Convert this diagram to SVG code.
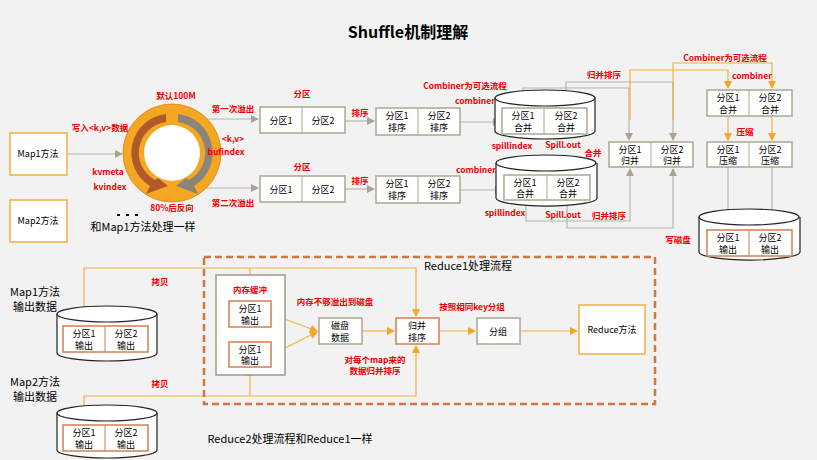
<svg xmlns="http://www.w3.org/2000/svg" width="817" height="460" viewBox="0 0 817 460">
<defs>
<style>
text{font-family:"Noto Sans CJK SC","Liberation Sans",sans-serif;font-size:9px;fill:#000;text-anchor:middle}
.r{fill:#e00;font-weight:bold;font-size:8.5px}
.bx{fill:#fff;stroke:#aaa890;stroke-width:1.5}
.ob{fill:#fff;stroke:#d08050;stroke-width:1.5}
.yb{fill:#fff;stroke:#f0b040;stroke-width:1.5}
.g{fill:none;stroke:#b8b4a8;stroke-width:1.2}
.o{fill:none;stroke:#f5b040;stroke-width:1.2}
.cy{fill:#fff;stroke:#222;stroke-width:1.2}
</style>
<marker id="ag" markerWidth="8" markerHeight="8" refX="7" refY="4" orient="auto" markerUnits="userSpaceOnUse"><path d="M0,0L8,4L0,8z" fill="#a8a498"/></marker>
<marker id="ao" markerWidth="8" markerHeight="8" refX="7" refY="4" orient="auto" markerUnits="userSpaceOnUse"><path d="M0,0L8,4L0,8z" fill="#f5a623"/></marker>
</defs>
<rect width="817" height="460" fill="#f2f2f2"/>
<text x="408" y="38" style="font-size:16px;font-weight:bold">Shuffle机制理解</text>

<g id="connectors">
<path class="g" d="M68,154H122" marker-end="url(#ag)"/>
<path class="g" d="M205,119H258" marker-end="url(#ag)"/>
<path class="g" d="M205,188H258" marker-end="url(#ag)"/>
<path class="g" d="M345,121H374" marker-end="url(#ag)"/>
<path class="g" d="M345,189H374" marker-end="url(#ag)"/>
<path class="g" d="M460,122H500" marker-end="url(#ag)"/>
<path class="g" d="M460,190H502" marker-end="url(#ag)"/>
<path class="g" d="M523,108V88H629V140" marker-end="url(#ag)"/>
<path class="g" d="M566,108V82H673V140" marker-end="url(#ag)"/>
<path class="g" d="M526,200V221H630V169" marker-end="url(#ag)"/>
<path class="g" d="M567,200V228H673V169" marker-end="url(#ag)"/>
<path class="o" d="M630,120V70H728V88" marker-end="url(#ao)"/>
<path class="o" d="M673,120V63H772V88" marker-end="url(#ao)"/>
<path class="o" d="M728,116V140" marker-end="url(#ao)"/>
<path class="o" d="M772,116V140" marker-end="url(#ao)"/>
<path class="g" d="M728,167V229" marker-end="url(#ag)"/>
<path class="g" d="M772,167V229" marker-end="url(#ag)"/>
<path class="o" d="M84,326V268H416V316" marker-end="url(#ao)"/>
<path class="o" d="M250,268V299" marker-end="url(#ao)"/>
<path class="o" d="M84,425V396H416V346" marker-end="url(#ao)"/>
<path class="o" d="M250,396V369" marker-end="url(#ao)"/>
<path class="o" d="M271,314L317,331" marker-end="url(#ao)"/>
<path class="o" d="M271,355L317,332" marker-end="url(#ao)"/>
<path class="o" d="M362,331H394" marker-end="url(#ao)"/>
<path class="o" d="M439,331H475" marker-end="url(#ao)"/>
<path class="o" d="M520,331H577" marker-end="url(#ao)"/>
</g>

<g id="map1"><rect x="10" y="133" width="57" height="42" class="yb"/><text x="38" y="157">Map1方法</text></g>
<g id="map2"><rect x="10" y="200" width="57" height="42" class="yb"/><text x="38" y="224">Map2方法</text></g>

<g id="ring">
<circle cx="172" cy="153" r="49" fill="#f5a623" stroke="#e0901a"/>
<circle cx="172" cy="153" r="28" fill="#fff"/>
<path d="M166,114A39,39 0 0 0 150,186L146,194L168,186L158,178L155,180A31,31 0 0 1 166,122Z" fill="#b05a28"/>
<path d="M178,114A39,39 0 0 1 194,186L198,194L176,186L186,178L189,180A31,31 0 0 0 178,122Z" fill="#8a857a"/>
<text class="r" x="176" y="99">默认100M</text>
<text class="r" x="100" y="131">写入&lt;k,v&gt;数据</text>
<text class="r" x="108" y="175">kvmeta</text>
<text class="r" x="110" y="190">kvindex</text>
<text class="r" x="233" y="142">&lt;k,v&gt;</text>
<text class="r" x="226" y="155">bufindex</text>
<text class="r" x="172" y="211">80%后反向</text>
<text class="r" x="233" y="112">第一次溢出</text>
<text class="r" x="233" y="206">第二次溢出</text>
<g fill="#000"><rect x="117" y="214" width="3" height="2"/><rect x="126" y="214" width="3" height="2"/><rect x="135" y="214" width="3" height="2"/></g>
<text x="143" y="231" style="font-size:11px">和Map1方法处理一样</text>
</g>

<g id="part1"><text class="r" x="302" y="97">分区</text><rect x="260" y="107" width="85" height="26" class="bx"/><line x1="302" y1="107" x2="302" y2="133" stroke="#aaa890"/><text x="281" y="124">分区1</text><text x="323" y="124">分区2</text></g>
<g id="part2"><text class="r" x="302" y="170">分区</text><rect x="260" y="176" width="85" height="26" class="bx"/><line x1="302" y1="176" x2="302" y2="202" stroke="#aaa890"/><text x="281" y="193">分区1</text><text x="323" y="193">分区2</text></g>

<g id="sort1"><text class="r" x="360" y="116">排序</text><rect x="376" y="108" width="84" height="27" class="bx"/><line x1="418" y1="108" x2="418" y2="135" stroke="#aaa890"/><text x="397" y="119">分区1</text><text x="397" y="131">排序</text><text x="439" y="119">分区2</text><text x="439" y="131">排序</text></g>
<g id="sort2"><text class="r" x="360" y="184">排序</text><rect x="376" y="176" width="84" height="27" class="bx"/><line x1="418" y1="176" x2="418" y2="203" stroke="#aaa890"/><text x="397" y="187">分区1</text><text x="397" y="199">排序</text><text x="439" y="187">分区2</text><text x="439" y="199">排序</text></g>

<g id="spill1">
<path class="cy" d="M495,98V131A50,8 0 0 0 595,131V98"/><ellipse cx="545" cy="98" rx="50" ry="8" class="cy"/>
<rect x="502" y="108" width="85" height="26" class="bx"/><line x1="544" y1="108" x2="544" y2="134" stroke="#aaa890"/>
<text x="523" y="119">分区1</text><text x="523" y="131">合并</text><text x="566" y="119">分区2</text><text x="566" y="131">合并</text>
<text class="r" x="465" y="89">Combiner为可选流程</text><text class="r" x="475" y="104">combiner</text>
<text class="r" x="512" y="149">spillindex</text><text class="r" x="563" y="148">Spill.out</text><text class="r" x="593" y="156">合并</text>
</g>
<g id="spill2">
<path class="cy" d="M496,163V198A50,8 0 0 0 597,198V163"/><ellipse cx="546" cy="163" rx="50" ry="8" class="cy"/>
<rect x="504" y="175" width="86" height="25" class="bx"/><line x1="547" y1="175" x2="547" y2="200" stroke="#aaa890"/>
<text x="525" y="186">分区1</text><text x="525" y="197">合并</text><text x="568" y="186">分区2</text><text x="568" y="197">合并</text>
<text class="r" x="476" y="173">combiner</text>
<text class="r" x="505" y="216">spillindex</text><text class="r" x="563" y="218">Spill.out</text><text class="r" x="609" y="219">归并排序</text>
</g>

<g id="merge"><text class="r" x="604" y="78">归并排序</text><rect x="609" y="142" width="84" height="25" class="bx"/><line x1="651" y1="142" x2="651" y2="167" stroke="#aaa890"/><text x="630" y="153">分区1</text><text x="630" y="164">归并</text><text x="672" y="153">分区2</text><text x="672" y="164">归并</text></g>

<g id="combine"><text class="r" x="725" y="61">Combiner为可选流程</text><text class="r" x="752" y="79">combiner</text><rect x="707" y="90" width="85" height="26" class="bx"/><line x1="749" y1="90" x2="749" y2="116" stroke="#aaa890"/><text x="728" y="101">分区1</text><text x="728" y="113">合并</text><text x="770" y="101">分区2</text><text x="770" y="113">合并</text></g>
<g id="compress"><text class="r" x="745" y="135">压缩</text><rect x="707" y="142" width="85" height="25" class="bx"/><line x1="749" y1="142" x2="749" y2="167" stroke="#aaa890"/><text x="728" y="153">分区1</text><text x="728" y="164">压缩</text><text x="770" y="153">分区2</text><text x="770" y="164">压缩</text></g>
<g id="output">
<path class="cy" d="M699,217V252A50,8 0 0 0 800,252V217"/><ellipse cx="749" cy="217" rx="50" ry="8" class="cy"/>
<rect x="707" y="230" width="85" height="26" class="ob"/><line x1="749" y1="230" x2="749" y2="256" stroke="#d08050"/>
<text x="728" y="241">分区1</text><text x="728" y="253">输出</text><text x="770" y="241">分区2</text><text x="770" y="253">输出</text>
<text class="r" x="678" y="243">写磁盘</text>
</g>

<g id="reduce1">
<rect x="204" y="257" width="451" height="147" fill="none" stroke="#d07840" stroke-width="2.5" stroke-dasharray="7,4"/>
<text x="468" y="270" style="font-size:11px">Reduce1处理流程</text>
</g>
<g id="membuf">
<rect x="216" y="275" width="69" height="100" fill="#fff" stroke="#a09888" stroke-width="1.5"/>
<text class="r" x="250" y="293">内存缓冲</text>
<rect x="229" y="301" width="42" height="26" class="ob"/><text x="250" y="312">分区1</text><text x="250" y="324">输出</text>
<rect x="229" y="342" width="42" height="25" class="ob"/><text x="250" y="353">分区1</text><text x="250" y="364">输出</text>
</g>
<g id="disk"><text class="r" x="335" y="305">内存不够溢出到磁盘</text><rect x="319" y="318" width="43" height="26" class="bx"/><text x="340" y="329">磁盘</text><text x="340" y="341">数据</text></g>
<g id="msort"><rect x="396" y="318" width="43" height="26" class="ob"/><text x="417" y="329">归并</text><text x="417" y="341">排序</text>
<text class="r" x="375" y="363">对每个map来的</text><text class="r" x="375" y="374">数据归并排序</text></g>
<g id="group"><text class="r" x="472" y="310">按照相同key分组</text><rect x="477" y="318" width="43" height="26" class="bx"/><text x="498" y="335">分组</text></g>
<g id="reducefn"><rect x="579" y="305" width="66" height="49" class="yb"/><text x="612" y="333">Reduce方法</text></g>

<g id="m1out">
<text x="35" y="296" style="font-size:11px">Map1方法</text><text x="35" y="311" style="font-size:11px">输出数据</text>
<path class="cy" d="M57,314V353A50,8 0 0 0 157,353V314"/><ellipse cx="107" cy="314" rx="50" ry="8" class="cy"/>
<rect x="63" y="326" width="85" height="26" class="ob"/><line x1="105" y1="326" x2="105" y2="352" stroke="#d08050"/>
<text x="84" y="337">分区1</text><text x="84" y="349">输出</text><text x="126" y="337">分区2</text><text x="126" y="349">输出</text>
<text class="r" x="160" y="285">拷贝</text>
</g>
<g id="m2out">
<text x="35" y="386" style="font-size:11px">Map2方法</text><text x="35" y="401" style="font-size:11px">输出数据</text>
<path class="cy" d="M57,413V450A50,8 0 0 0 157,450V413"/><ellipse cx="107" cy="413" rx="50" ry="8" class="cy"/>
<rect x="63" y="425" width="85" height="26" class="ob"/><line x1="105" y1="425" x2="105" y2="451" stroke="#d08050"/>
<text x="84" y="436">分区1</text><text x="84" y="448">输出</text><text x="126" y="436">分区2</text><text x="126" y="448">输出</text>
<text class="r" x="160" y="387">拷贝</text>
</g>
<text x="290" y="443" style="font-size:11px">Reduce2处理流程和Reduce1一样</text>
</svg>
